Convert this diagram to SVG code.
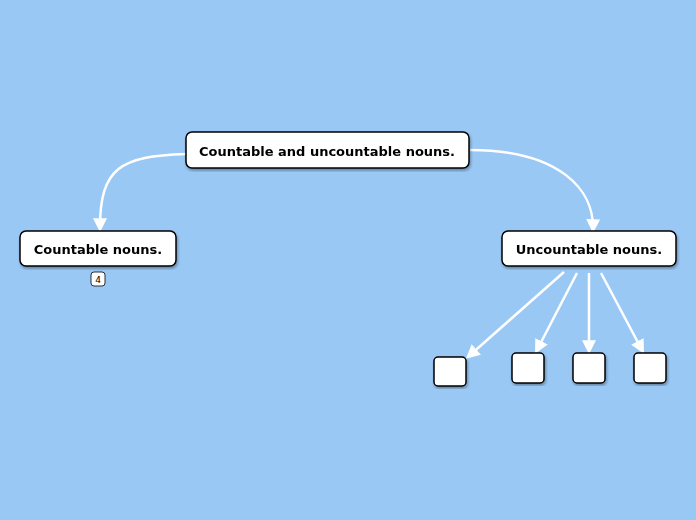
<svg xmlns="http://www.w3.org/2000/svg" width="696" height="520" viewBox="0 0 696 520">
<defs>
<style>
.n{fill:#fff;stroke:#000;stroke-width:1.5}
.t{font-family:"DejaVu Sans",sans-serif;font-weight:bold;font-size:13px;text-anchor:middle;fill:#000}
.c{fill:none;stroke:#fff;stroke-width:2.5}
</style>
<marker id="a" viewBox="0 0 10 10" refX="7" refY="5" markerWidth="14" markerHeight="14" orient="auto" markerUnits="userSpaceOnUse"><path d="M0,0 L10,5 L0,10 z" fill="#fff"/></marker>
<filter id="s"><feDropShadow dx="1" dy="2" stdDeviation="1.5" flood-opacity="0.35"/></filter>
</defs>
<rect width="696" height="520" fill="#9ac8f5"/>
<g id="connectors">
<path class="c" d="M186,154 C120,156 100,168 100,228" marker-end="url(#a)"/>
<path class="c" d="M470,150 C560,150 594,190 593,229" marker-end="url(#a)"/>
<path class="c" d="M564,272 L469,356" marker-end="url(#a)"/>
<path class="c" d="M577,273 L537,350" marker-end="url(#a)"/>
<path class="c" d="M589,273 L589,350" marker-end="url(#a)"/>
<path class="c" d="M601,273 L642,350" marker-end="url(#a)"/>
</g>
<g id="root" filter="url(#s)"><rect class="n" x="186" y="132" width="283" height="36" rx="6"/><text class="t" x="327" y="156">Countable and uncountable nouns.</text></g>
<g id="countable" filter="url(#s)"><rect class="n" x="20" y="231" width="156" height="35" rx="6"/><text class="t" x="98" y="254">Countable nouns.</text></g>
<g id="badge"><rect x="91" y="272" width="14" height="14" rx="3" fill="#fff" stroke="#000" stroke-width="0.8"/><text x="98" y="283" font-family="DejaVu Sans,sans-serif" font-size="9" text-anchor="middle">4</text></g>
<g id="uncountable" filter="url(#s)"><rect class="n" x="502" y="231" width="174" height="35" rx="6"/><text class="t" x="589" y="254">Uncountable nouns.</text></g>
<g id="b1" filter="url(#s)"><rect class="n" x="434" y="357" width="32" height="29" rx="4"/></g>
<g id="b2" filter="url(#s)"><rect class="n" x="512" y="353" width="32" height="30" rx="4"/></g>
<g id="b3" filter="url(#s)"><rect class="n" x="573" y="353" width="32" height="30" rx="4"/></g>
<g id="b4" filter="url(#s)"><rect class="n" x="634" y="353" width="32" height="30" rx="4"/></g>
</svg>
